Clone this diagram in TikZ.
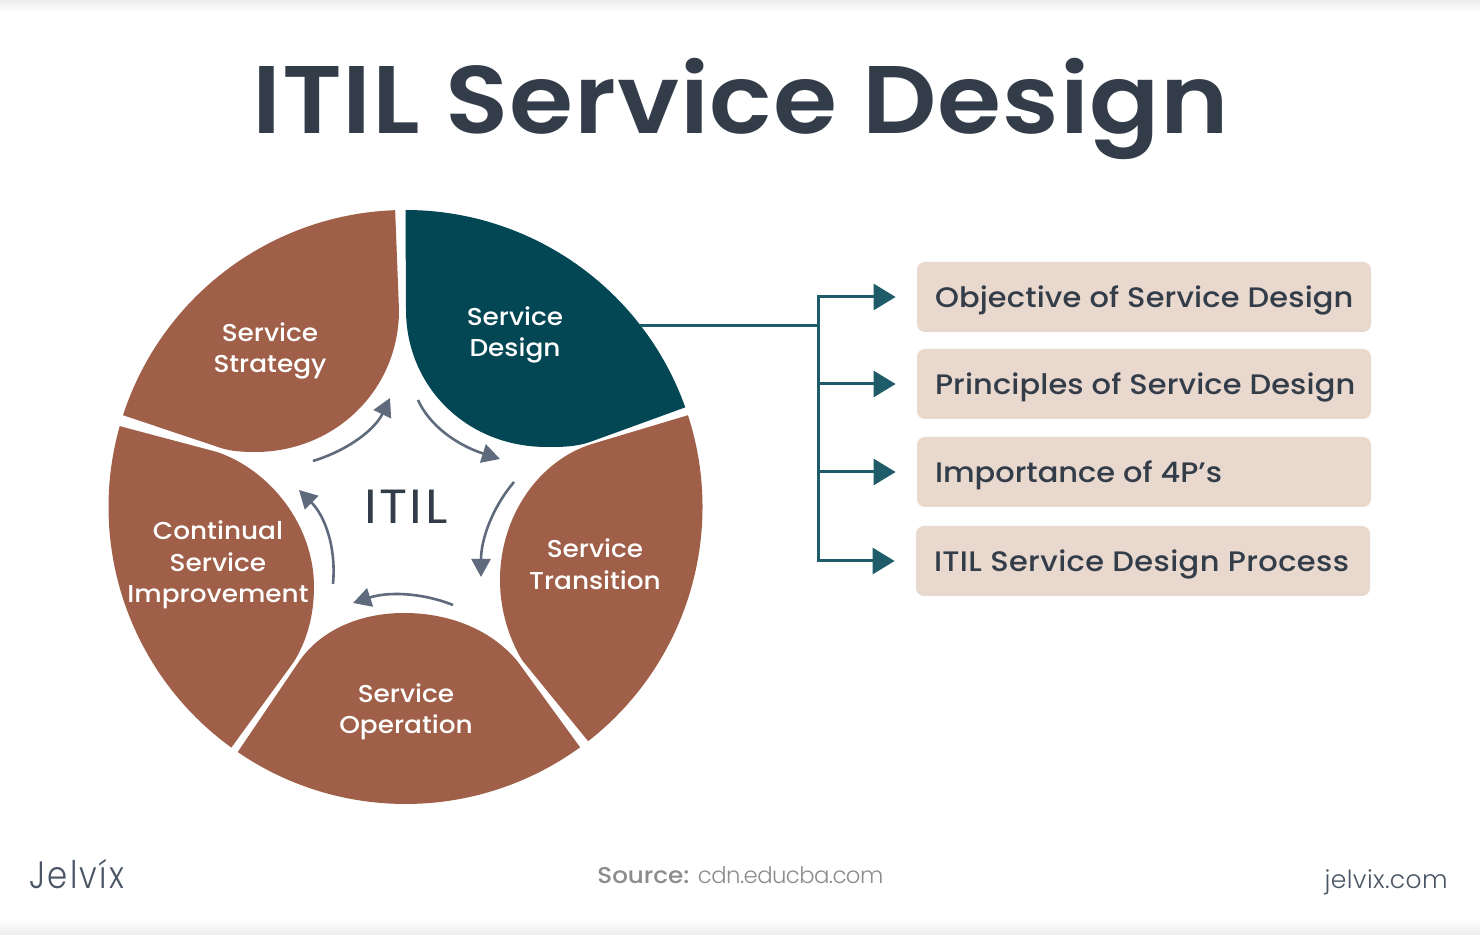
\documentclass[tikz,border=0pt]{standalone}
\usepackage{fontspec}
\usetikzlibrary{arrows.meta,calc}
\setmainfont[FakeStretch=1.08]{Poppins Medium}
\newfontfamily\titlefont[FakeStretch=1.08,LetterSpace=0.9]{Poppins SemiBold}
\newfontfamily\boxfont[FakeStretch=1.08]{Poppins Medium}
\newfontfamily\regfont[FakeStretch=1.08]{Poppins}
\newfontfamily\lightfont[FakeStretch=1.0,LetterSpace=1.5]{Poppins Light}
\newfontfamily\logofont[FakeStretch=0.85,LetterSpace=6]{Poppins Light}
\newfontfamily\srcfont[FakeStretch=1.0,LetterSpace=-2.5]{Poppins Light}
\definecolor{brownpetal}{HTML}{9F5F48}
\definecolor{tealpetal}{HTML}{034755}
\definecolor{treeteal}{HTML}{1F5C69}
\definecolor{boxfill}{HTML}{E9D8CE}
\definecolor{inktext}{HTML}{333D49}
\definecolor{cyclegray}{HTML}{5F6B7C}
\definecolor{srcgray}{HTML}{8C8C8C}
\definecolor{logogray}{HTML}{4A5665}
\tikzset{
  petal/.style={fill=brownpetal,draw=none},
  petallabel/.style={text=white,align=center,font=\fontsize{12.2}{15.8}\selectfont},
  topicbox/.style={fill=boxfill,rounded corners=4pt,minimum height=35pt,text width=209pt,
    inner xsep=9pt,inner ysep=0pt,align=flush left,text=inktext,
    font=\boxfont\fontsize{14.1}{18}\selectfont,text height=10.5pt,text depth=0pt},
  tree/.style={draw=treeteal,line width=1.5pt},
  treearrow/.style={tree,-{Triangle[length=11pt,width=13pt]},shorten >=10.5pt},
  cyclearrow/.style={draw=cyclegray,line width=1.3pt,-{Triangle[length=9pt,width=9.5pt]}}
}
\begin{document}
\begin{tikzpicture}[x=0.5pt,y=-0.5pt]
\useasboundingbox (0,0) rectangle (1480,935);
\fill[white] (0,0) rectangle (1480,935);
\shade[top color=black!7,bottom color=white] (0,0) rectangle (1480,12);
\shade[top color=white,bottom color=black!7] (0,918) rectangle (1480,935);
\coordinate (cc) at (405.5,507);
\fill[fill=tealpetal] (cc) ++(-90:297) arc[start angle=-90,end angle=-19.6,radius=297] -- (590,442) .. controls (575,447) and (562,447) .. (547,447) .. controls (465,447) and (406,385) .. (406,310) -- cycle;
\fill[petal] (cc) ++(-18:297) arc[start angle=-18,end angle=52.05,radius=297] -- (522,660) .. controls (510,640) and (500,612) .. (500,580) .. controls (500,515) and (540,460) .. (592,444) -- cycle;
\fill[petal] (cc) ++(54:297) arc[start angle=54,end angle=124.4,radius=297] -- (298,663) .. controls (320,630) and (360,613) .. (404,613) .. controls (450,613) and (492,630) .. (518,662) -- cycle;
\fill[petal] (cc) ++(125.9:297) arc[start angle=125.9,end angle=195.8,radius=297] -- (217,452) .. controls (270,470) and (314,525) .. (314,587) .. controls (314,617) and (306,643) .. (293,663) -- cycle;
\fill[petal] (cc) ++(198:297) arc[start angle=198,end angle=268,radius=297] -- (399,310) .. controls (399,390) and (335,452) .. (255,452) .. controls (240,452) and (228,451) .. (215,446) -- cycle;
\node[petallabel] (design) at (515,335) {Service\\Design};
\node[petallabel] (strategy) at (270,351) {Service\\Strategy};
\node[petallabel] (transition) at (595,564) {Service\\Transition};
\node[petallabel] (operation) at (406,712) {Service\\Operation};
\node[petallabel] (continual) at (218,565) {Continual\\Service\\Improvement};
\node[text=inktext,font=\regfont\fontsize{24}{26}\selectfont] (itil) at (406,507) {\addfontfeatures{LetterSpace=5}ITIL};
\node[text=inktext,font=\titlefont\fontsize{48}{60}\selectfont] (title) at (741,109) {ITIL Service Design};
\node[topicbox] (box1) at (1144,297) {\mbox{\addfontfeatures{LetterSpace=0.5}Objective of Service Design}};
\node[topicbox] (box2) at (1144,384) {\mbox{\addfontfeatures{LetterSpace=0.4}Principles of Service Design}};
\node[topicbox] (box3) at (1144,472) {\mbox{Importance of 4P’s}};
\node[topicbox] (box4) at (1143,561) {\mbox{\addfontfeatures{LetterSpace=1.4}ITIL Service Design Process}};
\coordinate (treestart) at (640,326);
\coordinate (junction) at (818,326);
\draw[tree] (treestart) -- (junction);
\draw[treearrow] (junction) |- (box1.west);
\draw[treearrow] (junction) |- (box2.west);
\draw[treearrow] (junction) |- (box3.west);
\draw[treearrow] (junction) |- (box4.west);
\coordinate (a1) at (313,461); \coordinate (b1) at (390,398); \coordinate (c1) at (368,444);
\coordinate (a2) at (418,400); \coordinate (b2) at (500,459); \coordinate (c2) at (435,438);
\coordinate (a3) at (514,482); \coordinate (b3) at (481,577); \coordinate (c3) at (481,521);
\coordinate (a4) at (453,605); \coordinate (b4) at (353,603); \coordinate (c4) at (405,586);
\coordinate (a5) at (333,584); \coordinate (b5) at (299,490); \coordinate (c5) at (338,529);
\draw[cyclearrow] (a1) .. controls ($(a1)!.667!(c1)$) and ($(b1)!.667!(c1)$) .. (b1);
\draw[cyclearrow] (a2) .. controls ($(a2)!.667!(c2)$) and ($(b2)!.667!(c2)$) .. (b2);
\draw[cyclearrow] (a3) .. controls ($(a3)!.667!(c3)$) and ($(b3)!.667!(c3)$) .. (b3);
\draw[cyclearrow] (a4) .. controls ($(a4)!.667!(c4)$) and ($(b4)!.667!(c4)$) .. (b4);
\draw[cyclearrow] (a5) .. controls ($(a5)!.667!(c5)$) and ($(b5)!.667!(c5)$) .. (b5);
\node[text=logogray,font=\logofont\fontsize{19}{22}\selectfont,anchor=base west,inner sep=0pt] (logo) at (29,888) {Jelvíx};
\node[text=srcgray,font=\fontsize{11.4}{16}\selectfont,anchor=base west,inner sep=0pt] (source) at (597,884) {Source: {\srcfont cdn.educba.com}};
\node[text=logogray,font=\lightfont\fontsize{12.5}{16}\selectfont,anchor=base east,inner sep=0pt] (site) at (1448,889) {jelvix.com};
\end{tikzpicture}
\end{document}
